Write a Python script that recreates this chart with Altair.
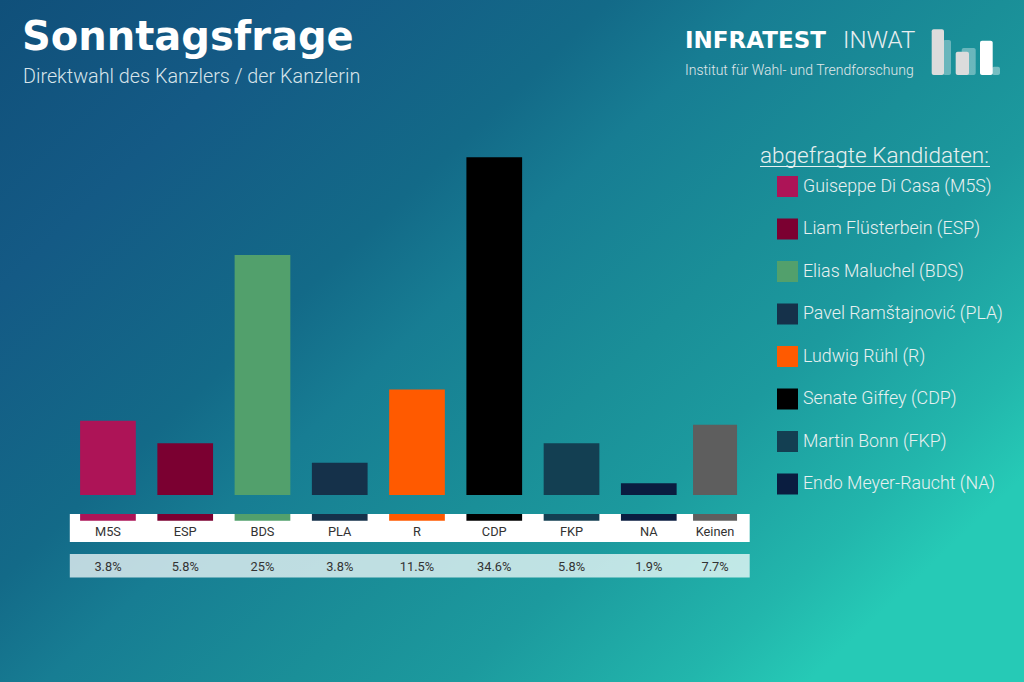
import altair as alt
import pandas as pd

# ---- data ----
codes = ["M5S", "ESP", "BDS", "PLA", "R", "CDP", "FKP", "NA", "Keinen"]
candidates = [
    "Guiseppe Di Casa (M5S)",
    "Liam Flüsterbein (ESP)",
    "Elias Maluchel (BDS)",
    "Pavel Ramštajnović (PLA)",
    "Ludwig Rühl (R)",
    "Senate Giffey (CDP)",
    "Martin Bonn (FKP)",
    "Endo Meyer-Raucht (NA)",
    "Keinen",
]
pct_labels = ["3.8%", "5.8%", "25%", "3.8%", "11.5%", "34.6%", "5.8%", "1.9%", "7.7%"]
# bar heights as drawn in the picture (same units as the percentages)
bar_values = [7.6, 5.3, 24.6, 3.3, 10.8, 34.6, 5.3, 1.2, 7.2]
colors = ["#AD1457", "#7B0031", "#52A06C", "#15314A", "#FF5A00",
          "#000000", "#133F52", "#0A1D40", "#5E5E5E"]

df = pd.DataFrame({
    "code": codes,
    "candidate": candidates,
    "label": pct_labels,
    "bar": bar_values,
})

W, H = 1024, 682
one = pd.DataFrame({"a": [0]})

xscale = alt.Scale(type="band", domain=codes, range=[80.1, 753.9],
                   paddingInner=0.279, paddingOuter=0)
yscale = alt.Scale(domain=[0, 34.6], range=[495, 157.3], nice=False, zero=True)
cscale = alt.Scale(domain=candidates, range=colors)
legend = alt.Legend(
    orient="none", legendX=777, legendY=176, title=None,
    values=candidates[:8], symbolType="square", symbolSize=441,
    symbolStrokeWidth=0, symbolOpacity=1, labelFontSize=17.8,
    labelColor="#E8F0F0", labelFont="Roboto", labelFontWeight=300,
    rowPadding=21.5, labelOffset=5, labelLimit=300,
)

X = alt.X("code:N", scale=xscale, axis=None, sort=codes)
C = alt.Color("candidate:N", scale=cscale, legend=legend)


def rect(x, x2, y, y2, color, opacity=1.0, radius=0):
    return alt.Chart(one).mark_rect(color=color, opacity=opacity, cornerRadius=radius).encode(
        x=alt.value(x), x2=alt.value(x2), y=alt.value(y), y2=alt.value(y2))


def text(t, x, y, size, color="white", weight="normal", font="Roboto", align="left"):
    return alt.Chart(one).mark_text(
        text=t, fontSize=size, color=color, fontWeight=weight, font=font,
        align=align, baseline="alphabetic").encode(x=alt.value(x), y=alt.value(y))


bg = alt.Chart(one).mark_rect(
    fill=alt.Gradient(
        gradient="linear", x1=0, y1=0, x2=1, y2=0.7,
        stops=[
            alt.GradientStop(color="#10507A", offset=0.0),
            alt.GradientStop(color="#145A85", offset=0.2),
            alt.GradientStop(color="#136A88", offset=0.4),
            alt.GradientStop(color="#177D93", offset=0.5),
            alt.GradientStop(color="#1A8F98", offset=0.66),
            alt.GradientStop(color="#1C9A9E", offset=0.77),
            alt.GradientStop(color="#22B6AC", offset=0.92),
            alt.GradientStop(color="#26CAB6", offset=1.0),
        ],
    )
).encode(x=alt.value(0), x2=alt.value(W), y=alt.value(0), y2=alt.value(H))

white_strip = rect(69.8, 749.7, 514, 542, "white")
value_strip = rect(69.8, 749.7, 554, 577.5, "white", 0.72)

base = alt.Chart(df)
main = base.transform_filter(alt.datum.code != "Keinen")
kein = base.transform_filter(alt.datum.code == "Keinen")

bars = main.mark_bar().encode(x=X, y=alt.Y("bar:Q", scale=yscale, axis=None), color=C)
bars_k = kein.mark_bar(size=44, xOffset=-11, y2Offset=2).encode(
    x=X, y=alt.Y("bar:Q", scale=yscale, axis=None), color=C)

stubs = main.mark_bar().encode(x=X, y=alt.value(514), y2=alt.value(520.7), color=C)
stubs_k = kein.mark_bar(size=44, xOffset=-11).encode(
    x=X, y=alt.value(514), y2=alt.value(520.7), color=C)

cat_lbl = main.mark_text(fontSize=12.8, color="#333333", font="Roboto",
                         baseline="middle").encode(x=X, y=alt.value(532), text="code:N")
cat_lbl_k = kein.mark_text(fontSize=12.8, color="#333333", font="Roboto",
                           baseline="middle", dx=-11).encode(x=X, y=alt.value(532), text="code:N")
val_lbl = main.mark_text(fontSize=12.8, color="#333333", font="Roboto",
                         baseline="middle").encode(x=X, y=alt.value(566.5), text="label:N")
val_lbl_k = kein.mark_text(fontSize=12.8, color="#333333", font="Roboto",
                           baseline="middle", dx=-11).encode(x=X, y=alt.value(566.5), text="label:N")

title = text("Sonntagsfrage", 22, 50, 40, "white", "bold", font="DejaVu Sans")
subtitle = text("Direktwahl des Kanzlers / der Kanzlerin", 23, 82.7, 19.8, "#D8E4EA", 300)

logo1 = text("INFRATEST", 685, 47.5, 23, "white", "bold", font="DejaVu Sans")
logo2 = text("INWAT", 843, 47.5, 24, "#E8EEF0", 300)
logo3 = text("Institut für Wahl- und Trendforschung", 685, 75, 14, "#E0E8EA", 300)

icon = [
    rect(943, 951, 40, 75, "white", 0.35, 2),
    rect(931.7, 944, 29.3, 75, "#DCDCDC", 1, 2),
    rect(961.7, 975.7, 48, 75, "white", 0.35, 2),
    rect(955.7, 969, 51.7, 75, "#DCDCDC", 1, 2),
    rect(992, 1000, 66.7, 75, "white", 0.4, 2),
    rect(980, 992.7, 40.7, 75, "white", 1, 2),
]

leg_title = text("abgefragte Kandidaten:", 760, 163, 22.5, "#E8F0F0", 300)
leg_line = alt.Chart(one).mark_rule(color="#E8F0F0", strokeWidth=1.2).encode(
    x=alt.value(760), x2=alt.value(990), y=alt.value(166.5))

chart = alt.layer(
    bg, white_strip, value_strip,
    bars, bars_k, stubs, stubs_k,
    cat_lbl, cat_lbl_k, val_lbl, val_lbl_k,
    title, subtitle, logo1, logo2, logo3, *icon,
    leg_title, leg_line,
).properties(
    width=W, height=H, padding=0,
    autosize=alt.AutoSizeParams(type="none"),
).configure_view(stroke=None)

chart.save("out.html", embed_options={"renderer": "svg", "actions": False})
